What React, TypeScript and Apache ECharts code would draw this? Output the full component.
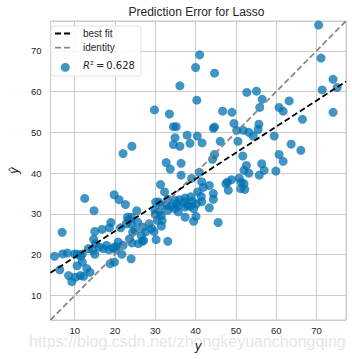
import React, { useEffect, useRef } from "react";
import * as echarts from "echarts";

// Observed target values (y) and Lasso predictions (y-hat)
const yTrue = [
  70.5, 71.1, 74.1, 71.4, 75.1, 74.1, 40.0, 41.0, 44.7, 36.1, 40.3, 46.7, 49.0, 52.7, 55.1, 56.5, 55.9, 60.7, 61.7, 63.2, 66.5, 29.8, 33.5, 49.5, 55.7,
  34.5, 35.2, 34.9, 34.5, 36.1, 37.9, 38.6, 40.4, 41.6, 44.4, 44.7, 46.1, 50.2, 51.8, 53.2, 50.5, 55.5, 24.2, 22.0, 54.3, 59.5, 63.7, 66.1, 60.7, 61.7,
  51.7, 44.7, 44.2, 32.7, 33.7, 36.4, 36.4, 39.0, 52.6, 52.0, 53.2, 56.4, 57.0, 55.8, 59.9, 40.9, 41.5, 43.4, 41.9, 40.5, 41.4, 41.5, 38.8, 37.4, 37.2,
  38.0, 39.2, 44.4, 44.4, 43.4, 40.1, 39.5, 45.6, 39.5, 37.4, 36.0, 35.6, 48.9, 47.9, 48.1, 47.5, 50.8, 51.3, 52.0, 51.2, 52.2,
  31.3, 32.3, 33.1, 34.9, 30.9, 31.7, 32.9, 33.9, 35.3, 34.8, 33.1, 35.7, 37.4, 38.6, 40.2, 29.9, 31.0, 30.0, 31.5, 30.5, 31.7, 31.5, 29.7, 30.2, 33.1, 27.6, 27.1, 30.1, 28.5, 29.1,
  12.5, 14.8, 19.8, 21.0, 22.6, 25.4, 6.9, 19.0, 18.6, 16.8, 15.0, 14.7, 15.2, 23.1, 24.1, 23.4, 24.0, 25.6, 25.0, 21.4, 22.8, 26.9, 26.5, 24.4, 23.6, 24.2, 25.8, 26.8, 20.8, 22.0,
  5.0, 7.0, 8.2, 10.0, 10.7, 11.9, 11.5, 13.4, 14.5, 15.0, 16.1, 17.1, 17.9, 18.5, 19.5, 20.2, 20.2, 21.7, 18.8, 19.9, 24.0, 6.3, 8.5, 9.3, 10.6, 10.2, 11.4, 12.2, 13.0, 13.8, 11.9,
];

const yPred = [
  76.3, 68.2, 63.0, 60.4, 61.0, 54.9, 65.9, 69.0, 64.5, 61.4, 57.9, 55.2, 54.9, 59.8, 60.1, 58.1, 56.1, 56.1, 55.2, 57.7, 53.2, 55.5, 54.5, 52.2, 52.0,
  51.4, 51.4, 48.7, 47.0, 46.6, 49.3, 47.3, 49.1, 47.4, 51.0, 51.3, 47.8, 50.5, 50.5, 50.0, 47.8, 50.7, 46.6, 44.8, 49.1, 49.1, 47.1, 45.6, 44.6, 42.9,
  44.2, 44.6, 43.4, 42.6, 41.0, 42.4, 39.5, 38.7, 41.9, 40.7, 40.0, 42.3, 40.7, 39.5, 40.5, 40.2, 37.9, 37.0, 36.5, 35.4, 34.3, 33.0, 34.2, 33.9, 32.9,
  32.1, 33.1, 35.0, 33.6, 31.5, 29.4, 28.2, 27.9, 31.3, 29.2, 33.5, 31.9, 38.4, 37.8, 35.8, 37.4, 38.8, 37.8, 37.4, 36.2, 36.0,
  37.2, 35.4, 33.6, 33.3, 32.9, 32.1, 32.1, 31.9, 32.5, 31.3, 30.9, 30.5, 31.7, 31.9, 32.5, 30.9, 30.5, 29.9, 29.7, 28.4, 28.4, 27.0, 25.7, 23.7, 23.3, 25.6, 23.5, 32.9, 27.6, 26.4,
  33.8, 30.8, 34.7, 33.5, 32.3, 30.8, 25.5, 27.9, 26.6, 26.2, 25.7, 23.8, 22.7, 29.2, 29.2, 28.6, 27.6, 28.0, 26.0, 26.6, 27.6, 26.8, 24.7, 25.6, 23.9, 22.9, 22.7, 23.3, 23.1, 22.3,
  19.6, 20.2, 20.4, 20.2, 20.1, 20.2, 19.6, 21.5, 21.1, 20.1, 21.9, 21.5, 22.3, 21.2, 21.7, 22.0, 21.2, 20.1, 17.8, 18.2, 19.0, 16.3, 14.9, 13.4, 17.3, 14.5, 14.9, 14.7, 16.6, 15.7, 18.2,
];

const axisMin = 4.0;
const axisMax = 77.3;
const tickValues = [10, 20, 30, 40, 50, 60, 70];
const fitSlope = 0.64;
const fitIntercept = 13.0;
const r2Text = "0.628";
const titleText = "Prediction Error for Lasso";
const legendLabels = ["best fit", "identity"];
const watermark = "https://blog.csdn.net/zhongkeyuanchongqing";

export default function App() {
  const ref = useRef<HTMLDivElement>(null);

  useEffect(() => {
    if (!ref.current) return;
    const chart = echarts.init(ref.current, null, { renderer: "svg" });
    const font = "'Liberation Sans', Arial, sans-serif";
    const dark = "#262626";
    const gridColor = "#cccccc";
    const fmt = (v: number) => {
      const r = Math.round(v * 1000) / 1000;
      return tickValues.indexOf(r) >= 0 ? String(r) : "";
    };
    const axisCommon = {
      type: "value",
      min: axisMin,
      max: axisMax,
      splitNumber: 7,
      axisLine: { show: false },
      axisTick: { show: false },
      splitLine: { show: true, lineStyle: { color: gridColor, width: 1 } },
    };
    const points = yTrue.map((v, i) => [v, yPred[i]]);

    chart.setOption({
      animation: false,
      backgroundColor: "#ffffff",
      grid: {
        left: 47,
        top: 21,
        right: 6,
        bottom: 39,
        show: true,
        borderColor: gridColor,
        borderWidth: 1,
        backgroundColor: "transparent",
      },
      xAxis: {
        ...axisCommon,
        axisLabel: { formatter: fmt, color: dark, fontSize: 9.5, margin: 5, fontFamily: font },
        name: "y",
        nameLocation: "middle",
        nameGap: 16,
        nameTextStyle: { fontStyle: "italic", fontSize: 12, color: dark, fontFamily: "'DejaVu Sans', sans-serif" },
      },
      yAxis: {
        ...axisCommon,
        axisLabel: { formatter: fmt, color: dark, fontSize: 9.5, margin: 9, fontFamily: font },
        name: "ŷ",
        nameLocation: "middle",
        nameGap: 25,
        nameTextStyle: { fontStyle: "italic", fontSize: 12, color: dark, fontFamily: "'DejaVu Sans', sans-serif" },
      },
      series: [
        {
          type: "scatter",
          data: points,
          symbolSize: 9,
          itemStyle: { color: "#0072B2", opacity: 0.75 },
          silent: true,
          z: 2,
        },
        {
          name: legendLabels[1],
          type: "line",
          data: [
            [axisMin, axisMin],
            [axisMax, axisMax],
          ],
          symbol: "none",
          silent: true,
          lineStyle: { color: "#888888", width: 1.8, type: [6, 3] },
          z: 3,
        },
        {
          name: legendLabels[0],
          type: "line",
          data: [
            [axisMin, fitIntercept + fitSlope * axisMin],
            [axisMax, fitIntercept + fitSlope * axisMax],
          ],
          symbol: "none",
          silent: true,
          lineStyle: { color: "#000000", width: 1.8, type: [6, 3] },
          z: 4,
        },
      ],
      graphic: [
        {
          type: "text",
          x: 29,
          y: 341,
          z: 0,
          silent: true,
          style: {
            text: watermark,
            fontSize: 16,
            fontFamily: font,
            fill: "#e6e6e6",
            verticalAlign: "middle",
          },
        },
        {
          type: "text",
          x: 196.5,
          y: 12,
          style: {
            text: titleText,
            fontSize: 12,
            fontFamily: font,
            fill: dark,
            align: "center",
            verticalAlign: "middle",
          },
        },
        {
          type: "rect",
          z: 10,
          shape: { x: 51, y: 26, width: 90, height: 50, r: 3 },
          style: { fill: "rgba(255,255,255,0.85)", stroke: "#e2e2e2", lineWidth: 1 },
        },
        {
          type: "line",
          z: 11,
          shape: { x1: 55, y1: 33.5, x2: 73, y2: 33.5 },
          style: { stroke: "#000000", lineWidth: 1.8, lineDash: [6, 3] },
        },
        {
          type: "line",
          z: 11,
          shape: { x1: 55, y1: 47.7, x2: 73, y2: 47.7 },
          style: { stroke: "#888888", lineWidth: 1.8, lineDash: [6, 3] },
        },
        {
          type: "circle",
          z: 11,
          shape: { cx: 65.3, cy: 67.3, r: 4.5 },
          style: { fill: "#0072B2", opacity: 0.75 },
        },
        {
          type: "text",
          z: 11,
          x: 83,
          y: 33.5,
          style: { text: legendLabels[0], fontSize: 10, fontFamily: font, fill: dark, verticalAlign: "middle" },
        },
        {
          type: "text",
          z: 11,
          x: 83,
          y: 47.7,
          style: { text: legendLabels[1], fontSize: 10, fontFamily: font, fill: dark, verticalAlign: "middle" },
        },
        {
          type: "text",
          z: 11,
          x: 83,
          y: 65.5,
          style: {
            text: "{i|R}{n|²\u2009=\u2009" + r2Text + "}",
            verticalAlign: "middle",
            fill: dark,
            rich: {
              i: { fontStyle: "italic", fontSize: 10, fontFamily: "'DejaVu Sans', sans-serif", fill: dark },
              n: { fontSize: 10, fontFamily: "'DejaVu Sans', sans-serif", fill: dark },
            },
          },
        },
      ],
    });

    return () => chart.dispose();
  }, []);

  return (
    <div
      ref={ref}
      style={{ position: "fixed", left: 0, top: 0, width: 352, height: 359 }}
    />
  );
}
